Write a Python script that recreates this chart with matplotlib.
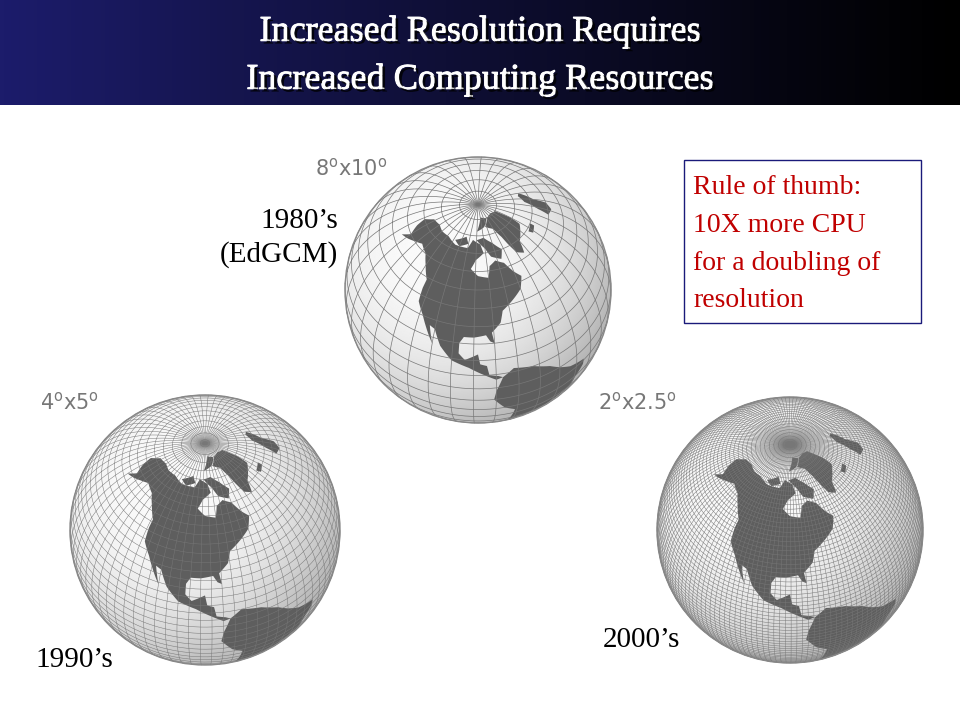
import numpy as np
import matplotlib
matplotlib.use("Agg")
import matplotlib.pyplot as plt
import matplotlib.patheffects as pe
from matplotlib.patches import Circle, Rectangle, Polygon

title_lines = ["Increased Resolution Requires", "Increased Computing Resources"]
rule_text = ["Rule of thumb:", "10X more CPU", "for a doubling of", "resolution"]
globe_labels = ["1980\u2019s\n(EdGCM)", "1990\u2019s", "2000\u2019s"]
res_labels = ["8$^{\\rm o}$x10$^{\\rm o}$", "4$^{\\rm o}$x5$^{\\rm o}$", "2$^{\\rm o}$x2.5$^{\\rm o}$"]
lat_steps = [8, 4, 2]
lon_steps = [10, 5, 2.5]

north_america = [(-168,66),(-162,70),(-150,71),(-140,70),(-128,70),(-115,68),(-100,68),(-95,72),(-85,70),(-82,66),(-90,63),(-94,59),(-88,56),(-80,55),(-78,60),(-72,62),(-65,60),(-60,55),(-56,52),(-60,47),(-66,44),(-70,42),(-74,40),(-76,35),(-81,31),(-80,26),(-82,27),(-84,30),(-90,29),(-95,29),(-97,26),(-97,21),(-94,18),(-88,21),(-87,16),(-84,15),(-83,10),(-79,9),(-77,8),(-80,7),(-85,10),(-92,14),(-100,17),(-106,23),(-110,30),(-113,31),(-110,23),(-115,30),(-118,34),(-123,39),(-124,45),(-124,49),(-130,54),(-136,58),(-145,60),(-152,58),(-158,56),(-165,54),(-160,58),(-165,62)]
greenland = [(-73,78),(-60,82),(-40,83),(-22,82),(-20,75),(-22,70),(-30,68),(-40,65),(-44,60),(-50,62),(-53,67),(-55,71),(-60,76)]
south_america = [(-77,8),(-72,12),(-63,10),(-55,6),(-50,2),(-44,-2),(-35,-5),(-35,-9),(-39,-15),(-40,-22),(-48,-26),(-53,-34),(-58,-38),(-65,-42),(-68,-52),(-72,-50),(-74,-42),(-72,-30),(-71,-18),(-76,-14),(-81,-6),(-80,0)]
baffin = [(-80,73),(-70,70),(-62,66),(-66,62),(-75,64),(-80,68),(-90,72)]
ellesmere = [(-90,76),(-80,83),(-62,82),(-75,78)]
victoria = [(-118,70),(-105,73),(-100,70),(-110,68)]
iceland = [(-24,65),(-14,66),(-14,64),(-22,63)]
scandinavia = [(5,58),(8,63),(15,69),(25,71),(30,70),(20,64),(18,58),(12,56)]
lands = [north_america, greenland, south_america, baffin, ellesmere, victoria, iceland, scandinavia]

globes = [(478, 290, 133), (205, 530, 135), (790, 530, 133)]
LAT0, LON0 = np.radians(50), np.radians(-88)

def proj(lon, lat):
    lam = np.radians(np.asarray(lon, float)); phi = np.radians(np.asarray(lat, float))
    x = np.cos(phi) * np.sin(lam - LON0)
    y = np.cos(LAT0) * np.sin(phi) - np.sin(LAT0) * np.cos(phi) * np.cos(lam - LON0)
    cc = np.sin(LAT0) * np.sin(phi) + np.cos(LAT0) * np.cos(phi) * np.cos(lam - LON0)
    return x, y, cc

fig = plt.figure(figsize=(9.6, 7.2), dpi=100)
ax = fig.add_axes([0, 0, 1, 1])
ax.set_xlim(0, 960); ax.set_ylim(720, 0); ax.axis("off")

g = np.linspace(0, 1, 256)
cols = np.zeros((1, 256, 3))
cols[0, :, 0] = 0.11 * (1 - g); cols[0, :, 1] = 0.11 * (1 - g); cols[0, :, 2] = 0.42 * (1 - g) ** 1.1
ax.imshow(cols, extent=[0, 960, 105, 0], aspect="auto", zorder=0)
for i, t in enumerate(title_lines):
    ax.text(480, 32 + 48 * i, t, color="white", fontsize=26, family="Liberation Serif",
            ha="center", va="center", zorder=2,
            path_effects=[pe.withStroke(linewidth=0.8, foreground="white"),
                          pe.SimplePatchShadow(offset=(2, -2), shadow_rgbFace="black", alpha=0.8), pe.Normal()])

yy, xx = np.mgrid[-1:1:300j, -1:1:300j]
rr = np.sqrt((xx + 0.3) ** 2 + (yy + 0.3) ** 2)
shade = np.clip(0.98 - 0.28 * (rr / 1.4) ** 2.5, 0, 1)

for gi, (cx, cy, R) in enumerate(globes):
    circ = Circle((cx, cy), R, facecolor="none", edgecolor="#888888", lw=1, zorder=5)
    ax.add_patch(circ)
    im = ax.imshow(shade, cmap="gray", vmin=0, vmax=1, extent=[cx - R, cx + R, cy + R, cy - R], zorder=1)
    im.set_clip_path(circ)
    for land in lands:
        pts = []
        L = land + [land[0]]
        for a, b in zip(L[:-1], L[1:]):
            for s in np.linspace(0, 1, 6)[:-1]:
                pts.append((a[0] + (b[0] - a[0]) * s, a[1] + (b[1] - a[1]) * s))
        pts = np.array(pts)
        x, y, cc = proj(pts[:, 0], pts[:, 1])
        if (cc > 0).sum() == 0:
            continue
        n = np.hypot(x, y); hid = cc < 0
        x[hid] /= n[hid]; y[hid] /= n[hid]
        poly = Polygon(np.c_[cx + R * x, cy - R * y], closed=True, facecolor="#5e5e5e", edgecolor="none", zorder=2)
        ax.add_patch(poly); poly.set_clip_path(circ)
    dlat, dlon = lat_steps[gi], lon_steps[gi]
    lw = 0.5 if gi == 0 else 0.35
    t = np.linspace(-90, 90, 400)
    for lon in np.arange(-180, 180, dlon):
        x, y, cc = proj(np.full_like(t, lon), t)
        x[cc < 0] = np.nan
        ax.plot(cx + R * x, cy - R * y, color="#777777", lw=lw, zorder=3)
    t = np.linspace(-180, 180, 720)
    for lat in np.arange(-90 + dlat / 2, 90, dlat):
        x, y, cc = proj(t, np.full_like(t, lat))
        x[cc < 0] = np.nan
        ax.plot(cx + R * x, cy - R * y, color="#777777", lw=lw, zorder=3)

serif = dict(family="Liberation Serif", fontsize=21, color="black")
ax.text(338, 238, globe_labels[0], ha="right", va="center", linespacing=1.3, **serif)
ax.text(35, 660, globe_labels[1], ha="left", va="center", **serif)
ax.text(603, 640, globe_labels[2], ha="left", va="center", **serif)
gs = dict(family="DejaVu Sans", fontsize=15, color="#777777")
ax.text(315, 168, res_labels[0], ha="left", va="center", **gs)
ax.text(40, 402, res_labels[1], ha="left", va="center", **gs)
ax.text(598, 402, res_labels[2], ha="left", va="center", **gs)

ax.add_patch(Rectangle((684, 160), 237, 163, facecolor="white", edgecolor="#1a1a7a", lw=1, zorder=6))
for i, t in enumerate(rule_text):
    ax.text(693, 188 + 37.5 * i, t, color="#c00000", family="Liberation Serif", fontsize=20,
            ha="left", va="center", zorder=7)

fig.savefig("out.png", dpi=100)
